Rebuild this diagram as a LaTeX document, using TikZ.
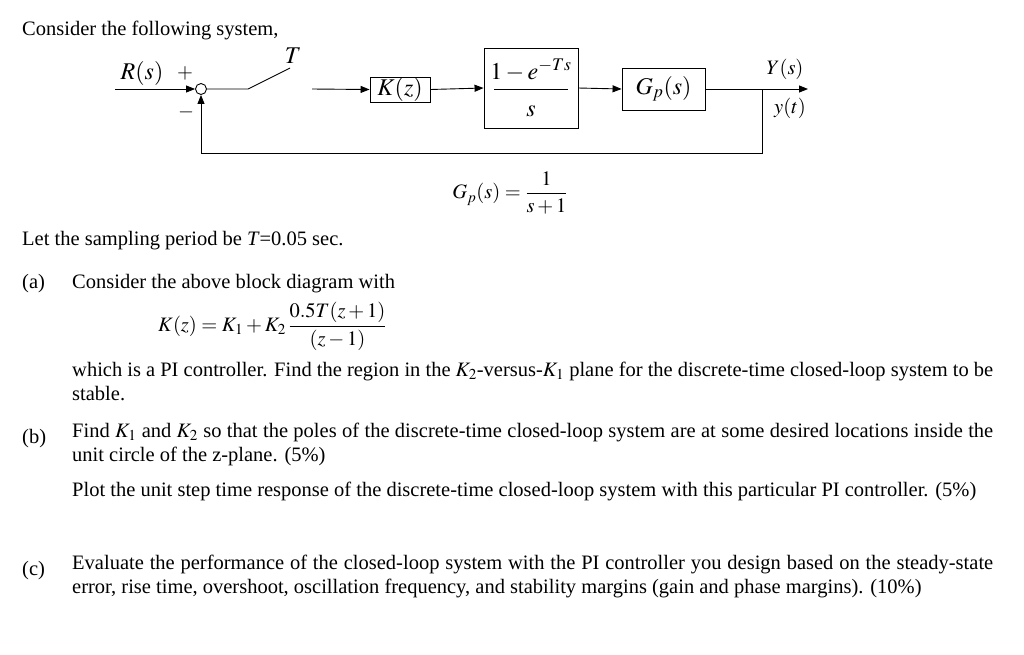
\documentclass[tikz,border=0pt]{standalone}
\usepackage{amsmath}
\usepackage{mathptmx}
\usepackage[no-math]{fontspec}
\setmainfont{Liberation Serif}
\usetikzlibrary{arrows.meta}
\begin{document}
\begin{tikzpicture}[x=1pt,y=-1pt,
  every node/.style={font=\fontsize{20.5}{24}\selectfont, inner sep=0pt},
  big/.style={font=\fontsize{24}{28}\selectfont},
  blk/.style={draw, line width=0.9pt, inner sep=0pt, font=\fontsize{24}{28}\selectfont},
  sig/.style={line width=0.9pt, -{Triangle[length=9pt,width=7pt]}},
  ln/.style={line width=0.9pt},
  txt/.style={anchor=base west},
  par/.style={anchor=north west, text width=921pt, align=justify, font=\fontsize{20.5}{24}\selectfont}]
\useasboundingbox (0,0) rectangle (1024,654);
\node[txt] (t0) at (22,35) {Consider the following system,};
% diagram
\node[draw, circle, line width=0.9pt, minimum size=11pt] (sum) at (201,89) {};
\coordinate (in) at (115,89);
\node[big] (R) at (142,73) {$R(s)$};
\node (plus) at (185,73) {$+$};
\node (minus) at (186,112) {$-$};
\coordinate (sw1) at (248,89);
\coordinate (sw2) at (290,68);
\node[big] (T) at (293,56) {$T$};
\coordinate (sw3) at (312,89);
\node[blk, minimum width=60pt, minimum height=25pt] (K) at (400,89.5) {$K(z)$};
\node[blk, minimum width=94pt, minimum height=80pt] (H) at (531,88) {};
\node[big] (Hn) at (531,70) {$1-e^{-Ts}$};
\node[big] (Hd) at (531,111) {$s$};
\draw[ln] (494,89) -- (568,89);
\node[blk, minimum width=83pt, minimum height=42pt] (G) at (663.5,89) {$G_p(s)$};
\coordinate (out) at (808,89);
\coordinate (br) at (762,89);
\coordinate (b1) at (762,153);
\coordinate (b2) at (201,153);
\node (Y) at (785,69) {$Y(s)$};
\node (yt) at (790,108) {$y(t)$};
\draw[sig] (in) -- (sum.west);
\draw[ln] (sum.east) -- (sw1) -- (sw2);
\draw[sig] (sw3) -- (K.west);
\draw[sig] (K.east) -- (H.west);
\draw[sig] (H.east) -- (G.west);
\draw[sig] (G.east) -- (out);
\draw[sig] (br) -- (b1) -- (b2) -- (sum.south);
\node (gp) at (510,193) {$G_p(s)=\dfrac{1}{s+1}$};
% text
\node[txt] (l1) at (22,245) {Let the sampling period be \textit{T}=0.05 sec.};
\node[txt] (a) at (22,288) {(a)};
\node[txt] (a1) at (72,288) {Consider the above block diagram with};
\node[anchor=west] (keq) at (158,326) {$K(z)=K_1+K_2\,\dfrac{0.5T(z+1)}{(z-1)}$};
\node[par] (a2) at (72,362) {which is a PI controller. Find the region in the $K_2$-versus-$K_1$ plane for the discrete-time closed-loop system to be stable.};
\node[txt] (b) at (22,443) {(b)};
\node[par] (b1t) at (72,423) {Find $K_1$ and $K_2$ so that the poles of the discrete-time closed-loop system are at some desired locations inside the unit circle of the z-plane. (5\%)};
\node[par] (b2t) at (72,482) {Plot the unit step time response of the discrete-time closed-loop system with this particular PI controller. (5\%)};
\node[txt] (c) at (22,575) {(c)};
\node[par] (c1) at (72,555) {Evaluate the performance of the closed-loop system with the PI controller you design based on the steady-state error, rise time, overshoot, oscillation frequency, and stability margins (gain and phase margins). (10\%)};
\end{tikzpicture}
\end{document}
